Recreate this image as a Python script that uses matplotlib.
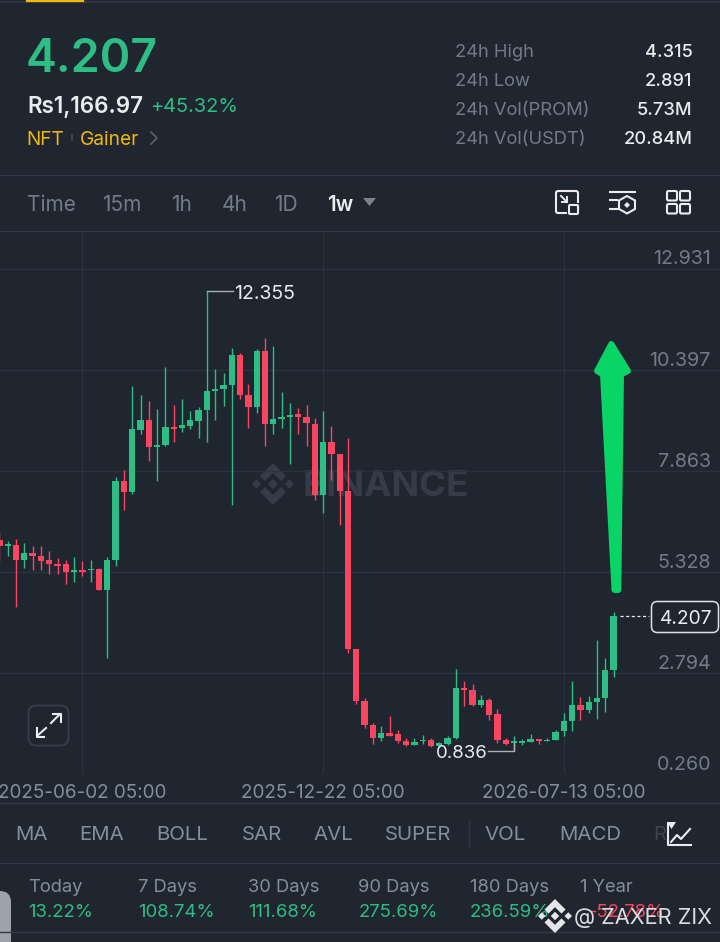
import matplotlib
matplotlib.use("Agg")
import matplotlib.pyplot as plt
from matplotlib.patches import FancyBboxPatch, Polygon
import numpy as np

plt.rcParams['font.family'] = ['Inter', 'DejaVu Sans']

# weekly candles
opens = [6.12, 5.98, 5.99, 5.61, 5.80, 5.72, 5.61, 5.51, 5.51, 5.33, 5.37, 5.36, 5.39, 4.88, 5.61,
         7.60, 7.32, 8.88, 9.12, 8.46, 8.50, 8.95, 8.93, 8.99, 9.11, 9.39, 9.86, 9.90, 10.01, 10.76,
         9.75, 9.46, 10.87, 9.04, 9.16, 9.20, 9.27, 9.20, 9.04, 7.26, 8.58, 8.29, 7.35, 3.38, 2.08,
         1.49, 1.16, 1.28, 1.25, 1.08, 0.97, 1.08, 1.12, 0.95, 1.01, 1.15, 2.40, 2.35, 1.99, 2.12,
         1.75, 1.11, 1.03, 1.04, 1.06, 1.14, 1.09, 1.12, 1.33, 1.59, 1.98, 1.86, 2.05, 2.15, 2.86]
closes = [5.97, 6.01, 5.61, 5.80, 5.72, 5.60, 5.52, 5.46, 5.32, 5.37, 5.33, 5.40, 4.88, 5.61, 7.60,
          7.32, 8.90, 9.12, 8.46, 8.50, 8.95, 8.91, 9.00, 9.12, 9.39, 9.86, 9.91, 10.01, 10.76, 9.76,
          9.46, 10.87, 9.04, 9.16, 9.20, 9.26, 9.20, 9.06, 7.26, 8.58, 8.29, 7.35, 3.38, 2.08, 1.49,
          1.16, 1.28, 1.22, 1.09, 0.97, 1.06, 1.11, 0.95, 1.03, 1.15, 2.40, 2.37, 1.99, 2.12, 1.74,
          1.11, 1.01, 1.07, 1.07, 1.14, 1.08, 1.12, 1.32, 1.59, 1.98, 1.86, 2.05, 2.15, 2.86, 4.207]
highs = [6.32, 6.10, 6.15, 6.04, 5.96, 5.96, 5.84, 5.67, 5.63, 5.70, 5.60, 5.61, 5.42, 5.70, 7.70,
         7.89, 9.99, 9.77, 9.60, 9.42, 10.45, 9.52, 9.67, 9.37, 9.45, 12.355, 10.42, 10.30, 10.94, 10.82,
         10.03, 10.92, 11.18, 10.98, 9.83, 9.56, 9.44, 9.50, 9.18, 9.36, 8.99, 8.29, 8.68, 3.38, 2.15,
         1.54, 1.45, 1.71, 1.37, 1.16, 1.16, 1.24, 1.17, 1.06, 1.22, 2.88, 2.58, 2.51, 2.23, 2.15,
         1.88, 1.15, 1.20, 1.13, 1.27, 1.14, 1.15, 1.35, 1.78, 2.58, 2.18, 2.22, 3.61, 3.16, 4.315]
lows = [5.59, 5.73, 4.44, 5.41, 5.38, 5.37, 5.26, 5.27, 5.01, 5.07, 5.21, 5.07, 4.88, 3.17, 5.47,
        6.88, 7.27, 8.78, 8.11, 7.61, 8.47, 8.58, 8.83, 8.91, 8.67, 8.57, 9.13, 9.49, 7.00, 9.67,
        8.94, 9.32, 8.49, 8.78, 8.94, 8.03, 8.78, 8.49, 7.13, 6.81, 7.63, 6.49, 3.29, 2.02, 1.42,
        1.01, 1.09, 1.21, 1.04, 0.95, 0.97, 1.01, 0.93, 0.94, 0.98, 1.14, 1.97, 1.97, 1.93, 1.60,
        1.04, 0.98, 0.836, 0.98, 1.05, 1.01, 1.07, 1.11, 1.21, 1.34, 1.60, 1.79, 1.64, 1.80, 2.68]

price_ticks = [0.260, 2.794, 5.328, 7.863, 10.397, 12.931]
date_ticks = [10, 39, 68]
date_labels = ['2025-06-02 05:00', '2025-12-22 05:00', '2026-07-13 05:00']

stat_names = ['24h High', '24h Low', '24h Vol(PROM)', '24h Vol(USDT)']
stat_values = ['4.315', '2.891', '5.73M', '20.84M']
intervals = ['Time', '15m', '1h', '4h', '1D']
indicators = ['MA', 'EMA', 'BOLL', 'SAR', 'AVL', 'SUPER', 'VOL', 'MACD']
period_names = ['Today', '7 Days', '30 Days', '90 Days', '180 Days', '1 Year']
period_values = ['13.22%', '108.74%', '111.68%', '275.69%', '236.59%', '-52.78%']

BG = '#1f2630'
GRID = '#2b323d'
LINE = '#333a45'
GREEN = '#2ebd85'
RED = '#fa4560'
GREY = '#848e9c'
DIM = '#737b86'
WHITE = '#eaecef'
YELLOW = '#f0b90b'

W, H = 720, 942
fig = plt.figure(figsize=(W / 100, H / 100), dpi=100, facecolor=BG)


def px_axes(zorder):
    a = fig.add_axes([0, 0, 1, 1], zorder=zorder)
    a.set_xlim(0, W)
    a.set_ylim(H, 0)
    a.axis('off')
    return a


def logo(a, cx, cy, r, color, z=1):
    pieces = [
        [(0, -.25), (.25, 0), (0, .25), (-.25, 0)],
        [(-.78, -.22), (-.56, 0), (-.78, .22), (-1, 0)],
        [(.78, -.22), (1, 0), (.78, .22), (.56, 0)],
        [(0, -1), (.62, -.38), (.38, -.14), (0, -.52), (-.38, -.14), (-.62, -.38)],
        [(0, 1), (.62, .38), (.38, .14), (0, .52), (-.38, .14), (-.62, .38)],
    ]
    for p in pieces:
        pts = [(cx + x * r, cy + y * r) for x, y in p]
        a.add_patch(Polygon(pts, closed=True, fc=color, ec='none', zorder=z))


# watermark sits under the candles
back = px_axes(0)
logo(back, 273, 484, 21, '#363c47')
back.text(303, 486, 'BINANCE', color='#363c47', fontsize=26.3, fontweight='bold', va='center', ha='left')

# candle chart, pixel x = -0.6 + 8.3 * index
ax = fig.add_axes([0, 1 - 773.8 / H, 1, (773.8 - 231) / H], zorder=1)
ax.patch.set_alpha(0)
ax.set_xlim(0.6 / 8.3, 720.6 / 8.3)
ax.set_ylim(0.26, 0.26 + (773.8 - 231) * (12.931 - 0.26) / (773.8 - 268.5))
for s in ax.spines.values():
    s.set_visible(False)

idx = np.arange(len(opens))
o = np.array(opens)
c = np.array(closes)
colors = [GREEN if b >= a else RED for a, b in zip(o, c)]
ax.vlines(idx, lows, highs, colors=colors, linewidth=1.0, zorder=3)
ax.bar(idx, np.abs(c - o), bottom=np.minimum(o, c), width=0.76, color=colors, linewidth=0, zorder=4)

ax.set_yticks(price_ticks)
ax.set_yticklabels([f'{v:.3f}' for v in price_ticks])
ax.set_xticks(date_ticks)
ax.set_xticklabels(date_labels)
ax.grid(True, color=GRID, linewidth=1.0, zorder=1)
ax.set_axisbelow(True)
ax.tick_params(axis='y', length=0, labelleft=False, labelright=True, pad=-6.5, labelsize=14.2, labelcolor=DIM)
ax.tick_params(axis='x', length=0, pad=7.5, labelsize=13.6, labelcolor=GREY)
for lab in ax.get_yticklabels():
    lab.set_ha('right')
    lab.set_va('bottom')

# high and low markers
ax.plot([25, 28.1], [12.355, 12.355], color='#aab0b8', linewidth=1.0, zorder=5)
ax.annotate('12.355', (28.3, 12.355), xytext=(0, -2), textcoords='offset points', color=WHITE,
            fontsize=14, va='center', ha='left', zorder=6)
ax.plot([62, 62, 58.9], [1.03, 0.836, 0.836], color='#aab0b8', linewidth=1.0, zorder=5)
ax.annotate('0.836', (58.8, 0.836), xytext=(0, -2), textcoords='offset points', color=WHITE,
            fontsize=13.4, va='center', ha='right', zorder=6)
ax.plot([74.8, 78.3], [4.207, 4.207], color=WHITE, linewidth=0.9, linestyle=(0, (2.5, 2)), zorder=5)

ui = px_axes(2)

# top panel
ui.plot([0, 720], [2, 2], color=LINE, lw=1.2)
ui.plot([27, 83], [0.5, 0.5], color=YELLOW, lw=1.6)
ui.text(26, 60, '4.207', color=GREEN, fontsize=33.5, fontweight='semibold', va='center', ha='left')
ui.text(27, 107, 'Rs1,166.97', color=WHITE, fontsize=16.2, fontweight='semibold', va='center', ha='left')
ui.text(150, 107, '+45.32%', color=GREEN, fontsize=14.4, va='center', ha='left')
ui.text(26.5, 140, 'NFT', color=YELLOW, fontsize=13.7, va='center', ha='left')
ui.plot([72, 72], [135, 140], color='#4a4f55', lw=1.2)
ui.text(80, 140, 'Gainer', color=YELLOW, fontsize=13.8, va='center', ha='left')
ui.plot([151, 157, 151], [132, 138, 144], color='#5a616b', lw=1.2)
for i, (nm, val) in enumerate(zip(stat_names, stat_values)):
    yy = 52.5 + i * 29
    ui.text(455, yy, nm, color=DIM, fontsize=13.2, va='center', ha='left')
    ui.text(692.5, yy, val, color=WHITE, fontsize=13.2, fontweight='medium', va='center', ha='right')

# interval row
ui.plot([0, 720], [174.5, 174.5], color=LINE, lw=1)
ui.plot([0, 720], [231, 231], color=LINE, lw=1)
for t, x in zip(intervals, [27.5, 102.5, 171.5, 221.5, 274.5]):
    ui.text(x, 205, t, color=DIM, fontsize=15, va='center', ha='left')
ui.text(327, 205, '1w', color=WHITE, fontsize=15, fontweight='semibold', va='center', ha='left')
ui.add_patch(Polygon([(363, 198), (376, 198), (369.5, 206)], fc='#7d838c', ec='none'))

# toolbar icons, just outlines
ui.add_patch(FancyBboxPatch((556, 191), 22, 22, boxstyle='round,pad=0,rounding_size=2', fc='none', ec=WHITE, lw=1.5))
ui.add_patch(Polygon([(567, 203), (578.5, 203), (578.5, 215), (567, 215)], fc=BG, ec='none', zorder=3))
ui.add_patch(FancyBboxPatch((569, 205), 9, 9, boxstyle='round,pad=0,rounding_size=1', fc='none', ec=WHITE, lw=1.5, zorder=4))
ui.plot([561, 567], [196, 202], color=WHITE, lw=1.4)
ui.plot([561.5, 567, 567], [202, 202, 197], color=WHITE, lw=1.4)
ui.plot([610, 635], [191.5, 191.5], color=WHITE, lw=1.5)
ui.plot([610, 617], [200, 200], color=WHITE, lw=1.5)
ui.plot([610, 617], [209, 209], color=WHITE, lw=1.5)
ui.add_patch(Polygon([(627, 196), (635, 200.5), (635, 209), (627, 213.5), (619, 209), (619, 200.5)], fc='none', ec=WHITE, lw=1.5))
ui.add_patch(Polygon([(627, 202), (630, 205), (627, 208), (624, 205)], fc=WHITE, ec='none'))
for x0 in (667, 680):
    for y0 in (191, 204):
        ui.add_patch(FancyBboxPatch((x0, y0), 10, 9.5, boxstyle='round,pad=0,rounding_size=1.5', fc='none', ec=WHITE, lw=1.5))

# big green arrow drawn over the chart
ui.add_patch(Polygon([(611.3, 344), (597, 371), (603, 374.5), (614.5, 590), (618.3, 590), (621, 374.5), (628, 371)],
                     closed=True, fc='#0ad465', ec='#0ad465', lw=4.3, joinstyle='round', zorder=6))

# last price box
ui.add_patch(FancyBboxPatch((651.5, 601.5), 67, 31, boxstyle='round,pad=0,rounding_size=6', fc=BG, ec='#dfe1e4', lw=1.1, zorder=6))
ui.text(686, 619, '4.207', color=WHITE, fontsize=13.8, va='center', ha='center', zorder=7)

# expand button
ui.add_patch(FancyBboxPatch((28.5, 705.5), 40, 40, boxstyle='round,pad=0,rounding_size=8', fc=BG, ec='#383f4a', lw=1.3, zorder=3))
ui.plot([51, 60], [723, 714], color=WHITE, lw=1.5, zorder=4)
ui.plot([53, 60.5, 60.5], [714, 714, 722], color=WHITE, lw=1.5, zorder=4)
ui.plot([37, 46], [736, 728], color=WHITE, lw=1.5, zorder=4)
ui.plot([37, 37, 44], [728, 736.5, 736.5], color=WHITE, lw=1.5, zorder=4)

# indicator row
ui.plot([0, 720], [803, 803], color=LINE, lw=1)
ui.plot([0, 720], [863, 863], color=LINE, lw=1)
ui.plot([0, 720], [932, 932], color=LINE, lw=1)
for t, x in zip(indicators, [15.5, 79.5, 156.5, 241.5, 313.5, 384.5, 484.5, 559.5]):
    ui.text(x, 835.5, t, color=GREY, fontsize=14.7, va='center', ha='left')
ui.text(653, 835.5, 'R', color='#3d434d', fontsize=14.7, va='center', ha='left')
ui.plot([468.5, 468.5], [822, 846], color=LINE, lw=1)
ui.plot([668, 668, 691], [823, 845, 845], color=WHITE, lw=1.5)
ui.plot([671, 677, 681, 690], [842, 835, 839, 829], color=WHITE, lw=1.5)
ui.add_patch(Polygon([(667, 822), (676, 822), (671.5, 829)], fc=WHITE, ec='none'))

# period changes
for i, (nm, val, x) in enumerate(zip(period_names, period_values, [29, 139, 249, 359, 470, 581])):
    ui.text(x - 0.5, 888, nm, color=GREY, fontsize=13.2, va='center', ha='left')
    if i < 5:
        ui.text(x - 0.5, 912.5, val, color=GREEN, fontsize=13.3, va='center', ha='left')
    else:
        ui.text(x + 8, 912.5, val, color=RED, fontsize=13.3, va='center', ha='left')

# corner blob and repost watermark
ui.add_patch(FancyBboxPatch((-20, 891), 31, 70, boxstyle='round,pad=0,rounding_size=11', fc='#9ea2a9', ec='none'))
logo(ui, 555, 916, 17, '#e4e5e8', z=5)
ui.text(574, 918, '@ ZAXER ZIX', color='#dcdde0', fontsize=15.7, va='center', ha='left', zorder=5)

fig.savefig('out.png', dpi=100, facecolor=BG)
